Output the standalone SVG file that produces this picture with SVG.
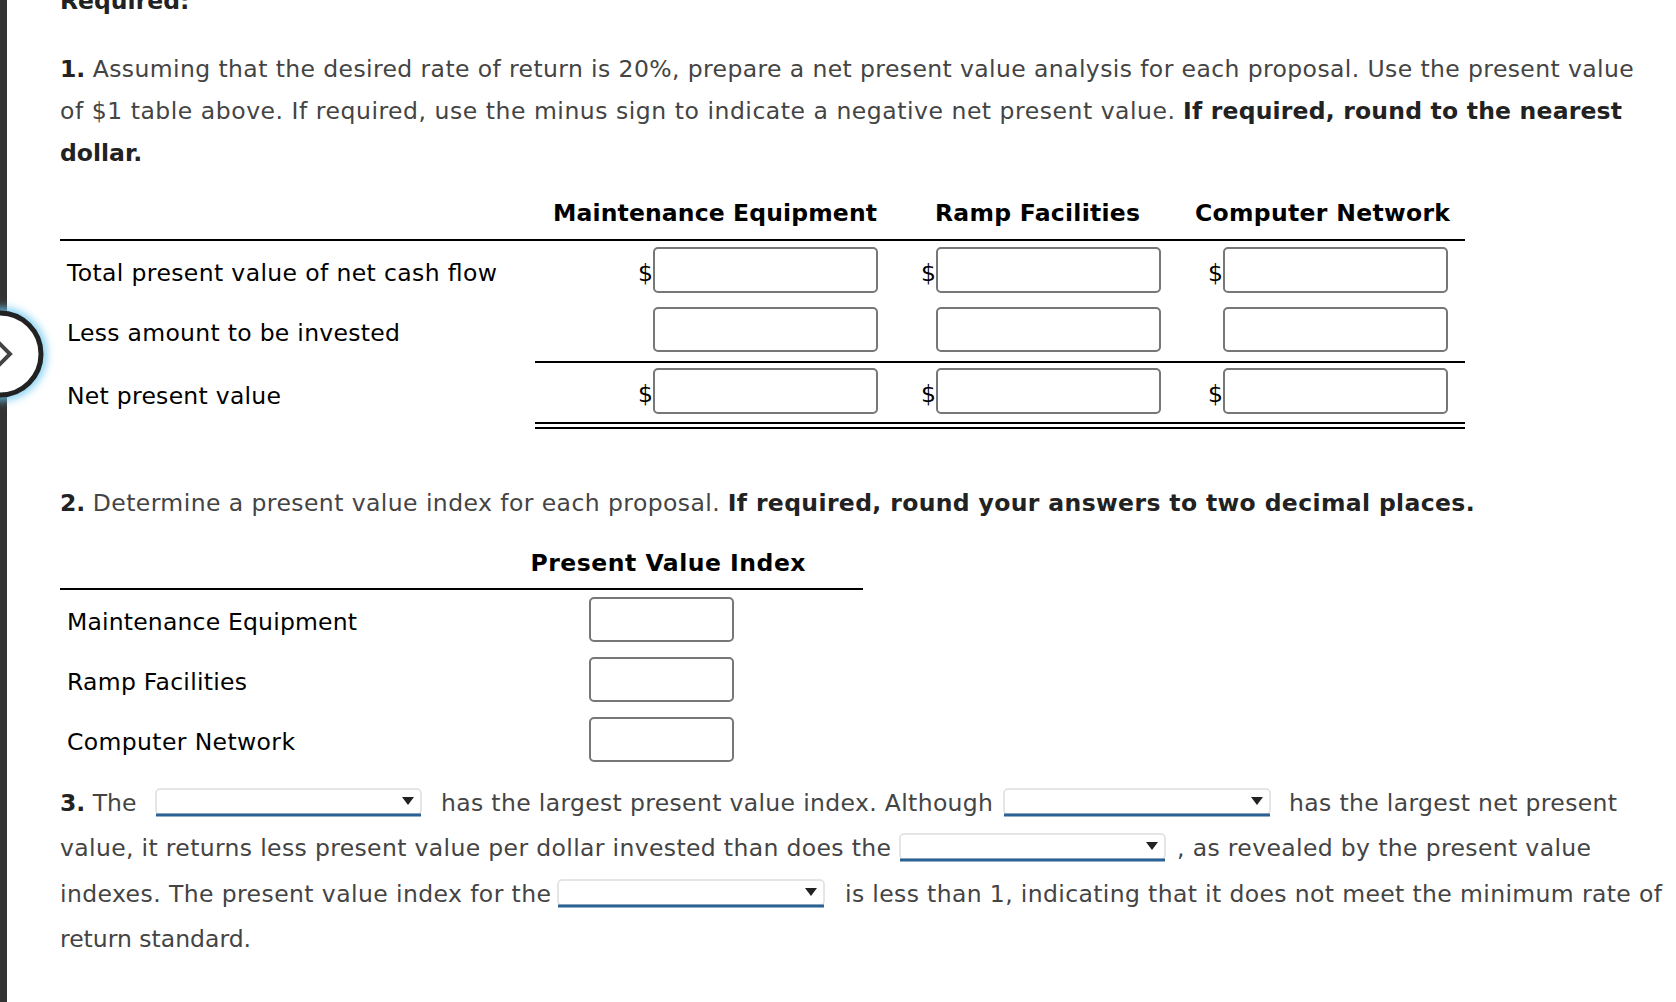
<svg xmlns="http://www.w3.org/2000/svg" width="1676" height="1002" viewBox="0 0 1676 1002">
<style>
text{font-family:"DejaVu Sans",Verdana,sans-serif;font-size:23.5px;fill:#444}
.b{font-weight:bold;fill:#222}
.h{font-weight:bold;fill:#000}
.l{fill:#000}
.in{fill:#fff;stroke:#777;stroke-width:2}
.dd{fill:#fff;stroke:#ddd;stroke-width:1.5}
.ul{stroke:#2a6294;stroke-width:3}
.rule{stroke:#000;stroke-width:2}
</style>
<defs>
<filter id="glow" x="-50%" y="-50%" width="200%" height="200%"><feGaussianBlur stdDeviation="4"/></filter>
<g id="arrow"><path d="M0 0 h12 l-6 8 z" fill="#222"/></g>
</defs>
<rect width="1676" height="1002" fill="#fff"/>
<rect x="0" y="0" width="7" height="1002" fill="#333"/>
<g id="nav">
<circle cx="0" cy="354" r="42" fill="none" stroke="#6cc8f0" stroke-width="8" filter="url(#glow)"/>
<circle cx="0" cy="354" r="41" fill="#fff" stroke="#222" stroke-width="5"/>
<path d="M-2 342 l12 12 l-12 12" fill="none" stroke="#444" stroke-width="4"/>
</g>
<text class="b" x="60" y="9">Required:</text>
<g id="part1">
<text x="60" y="77"><tspan class="b">1.</tspan> <tspan textLength="1541">Assuming that the desired rate of return is 20%, prepare a net present value analysis for each proposal. Use the present value</tspan></text>
<text x="60" y="119"><tspan textLength="1115">of $1 table above. If required, use the minus sign to indicate a negative net present value.</tspan> <tspan class="b" textLength="439">If required, round to the nearest</tspan></text>
<text class="b" x="60" y="161">dollar.</text>
<text class="h" x="553" y="221" textLength="324">Maintenance Equipment</text>
<text class="h" x="935" y="221" textLength="205">Ramp Facilities</text>
<text class="h" x="1195" y="221" textLength="255">Computer Network</text>
<line class="rule" x1="60" y1="240" x2="1465" y2="240"/>
<text class="l" x="67" y="281" textLength="430">Total present value of net cash flow</text>
<text class="l" x="67" y="341" textLength="333">Less amount to be invested</text>
<text class="l" x="67" y="404" textLength="214">Net present value</text>
<g id="inputs1">
<rect class="in" x="654" y="248" width="223" height="44" rx="4"/>
<rect class="in" x="937" y="248" width="223" height="44" rx="4"/>
<rect class="in" x="1224" y="248" width="223" height="44" rx="4"/>
<rect class="in" x="654" y="308" width="223" height="43" rx="4"/>
<rect class="in" x="937" y="308" width="223" height="43" rx="4"/>
<rect class="in" x="1224" y="308" width="223" height="43" rx="4"/>
<rect class="in" x="654" y="369" width="223" height="44" rx="4"/>
<rect class="in" x="937" y="369" width="223" height="44" rx="4"/>
<rect class="in" x="1224" y="369" width="223" height="44" rx="4"/>
</g>
<text class="l" x="638" y="281">$</text>
<text class="l" x="921" y="281">$</text>
<text class="l" x="1208" y="281">$</text>
<text class="l" x="638" y="402">$</text>
<text class="l" x="921" y="402">$</text>
<text class="l" x="1208" y="402">$</text>
<line class="rule" x1="535" y1="362" x2="1465" y2="362"/>
<line class="rule" x1="535" y1="423" x2="1465" y2="423"/>
<line class="rule" x1="535" y1="428" x2="1465" y2="428"/>
</g>
<g id="part2">
<text x="60" y="511"><tspan class="b">2.</tspan> <tspan textLength="627">Determine a present value index for each proposal.</tspan> <tspan class="b" textLength="747">If required, round your answers to two decimal places.</tspan></text>
<text class="h" x="668" y="571" text-anchor="middle" textLength="275">Present Value Index</text>
<line class="rule" x1="60" y1="589" x2="863" y2="589"/>
<text class="l" x="67" y="630" textLength="290">Maintenance Equipment</text>
<text class="l" x="67" y="690" textLength="180">Ramp Facilities</text>
<text class="l" x="67" y="750" textLength="228">Computer Network</text>
<rect class="in" x="590" y="598" width="143" height="43" rx="4"/>
<rect class="in" x="590" y="658" width="143" height="43" rx="4"/>
<rect class="in" x="590" y="718" width="143" height="43" rx="4"/>
</g>
<g id="part3">
<text x="60" y="811"><tspan class="b">3.</tspan> The</text>
<rect class="dd" x="156" y="789" width="265" height="25" rx="4"/><line class="ul" x1="156" y1="815" x2="421" y2="815"/><use href="#arrow" x="402" y="797"/>
<text x="441" y="811" textLength="552">has the largest present value index. Although</text>
<rect class="dd" x="1004" y="789" width="266" height="25" rx="4"/><line class="ul" x1="1004" y1="815" x2="1270" y2="815"/><use href="#arrow" x="1251" y="797"/>
<text x="1289" y="811" textLength="328">has the largest net present</text>
<text x="60" y="856" textLength="831">value, it returns less present value per dollar invested than does the</text>
<rect class="dd" x="900" y="834" width="265" height="25" rx="4"/><line class="ul" x1="900" y1="860" x2="1165" y2="860"/><use href="#arrow" x="1146" y="842"/>
<text x="1177" y="856" textLength="414">, as revealed by the present value</text>
<text x="60" y="902" textLength="491">indexes. The present value index for the</text>
<rect class="dd" x="558" y="880" width="266" height="25" rx="4"/><line class="ul" x1="558" y1="906" x2="824" y2="906"/><use href="#arrow" x="805" y="888"/>
<text x="845" y="902" textLength="817">is less than 1, indicating that it does not meet the minimum rate of</text>
<text x="60" y="947">return standard.</text>
</g>
</svg>
